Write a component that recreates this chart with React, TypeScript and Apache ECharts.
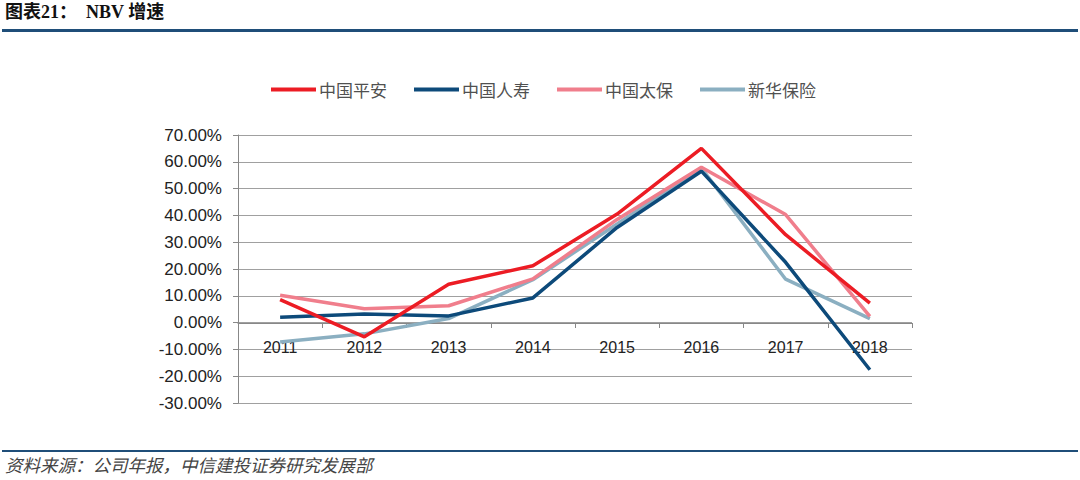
import React, { useEffect, useRef } from "react";
import * as echarts from "echarts";

const categories = ["2011", "2012", "2013", "2014", "2015", "2016", "2017", "2018"];
const seriesNames = ["中国平安", "中国人寿", "中国太保", "新华保险"];
const pingan = [8.6, -5.3, 14.3, 21.2, 40.5, 65.0, 32.8, 7.3];
const renshou = [2.0, 3.2, 2.5, 9.2, 35.5, 56.5, 22.5, -17.6];
const taibao = [10.2, 5.2, 6.3, 16.3, 38.5, 58.0, 40.3, 2.3];
const xinhua = [-7.2, -4.2, 1.5, 16.0, 36.8, 57.7, 16.2, 1.5];
const yTicks = { min: -30, max: 70, interval: 10 };
const colors = ["#EC1C24", "#0D4A7A", "#F07E8C", "#8BAFC1"];
const titleText = "图表21：  NBV 增速";
const sourceText = "资料来源：公司年报，中信建投证券研究发展部";

export default function App() {
  const ref = useRef<HTMLDivElement>(null);
  useEffect(() => {
    document.body.style.margin = "0";
    const chart = echarts.init(ref.current!, null, { renderer: "svg" });
    const data = [pingan, renshou, taibao, xinhua];
    chart.setOption({
      animation: false,
      backgroundColor: "#ffffff",
      graphic: [
        {
          type: "text",
          left: 5,
          top: 3,
          style: {
            text: titleText,
            fontSize: 18,
            fontWeight: "bold",
            fontFamily: "Liberation Serif, Noto Sans CJK SC",
            fill: "#111",
          },
        },
        {
          type: "rect",
          shape: { x: 2, y: 29, width: 1076, height: 3 },
          style: { fill: "#1F4E79" },
        },
        {
          type: "rect",
          shape: { x: 2, y: 450, width: 1076, height: 2 },
          style: { fill: "#1F4E79" },
        },
        {
          type: "text",
          left: 5,
          top: 456,
          style: {
            text: sourceText,
            fontSize: 17.5,
            fontStyle: "italic",
            fontFamily: "Noto Sans CJK SC",
            fill: "#444",
          },
        },
      ],
      legend: {
        left: 266,
        top: 76,
        icon: "rect",
        itemWidth: 45,
        itemHeight: 4,
        itemGap: 27,
        textStyle: {
          fontSize: 17,
          color: "#505050",
          fontFamily: "Noto Sans CJK SC",
          padding: [0, 0, 0, -2],
        },
        data: seriesNames,
      },
      grid: { left: 238, right: 168, top: 135, bottom: 77, containLabel: false },
      xAxis: {
        type: "category",
        data: categories,
        boundaryGap: true,
        offset: -80,
        axisLine: { onZero: false, lineStyle: { color: "#888", width: 1 } },
        axisTick: { show: true, length: 5, lineStyle: { color: "#888" } },
        axisLabel: {
          margin: 16,
          fontSize: 16,
          color: "#222",
          fontFamily: "Liberation Sans, Arial",
        },
      },
      yAxis: {
        type: "value",
        min: yTicks.min,
        max: yTicks.max,
        interval: yTicks.interval,
        axisLine: { show: true, lineStyle: { color: "#888", width: 1 } },
        axisTick: { show: true, length: 5, lineStyle: { color: "#888" } },
        splitLine: { show: true, lineStyle: { color: "#a0a0a0", width: 1 } },
        axisLabel: {
          margin: 16,
          fontSize: 17,
          color: "#222",
          fontFamily: "Liberation Sans, Arial",
          formatter: (v: number) => v.toFixed(2) + "%",
        },
      },
      series: seriesNames.map((name, i) => ({
        name,
        type: "line",
        data: data[i],
        symbol: "none",
        lineStyle: { width: 3.5, color: colors[i] },
        itemStyle: { color: colors[i] },
        z: 10 - i,
      })),
    });
    return () => chart.dispose();
  }, []);
  return <div ref={ref} style={{ width: 1080, height: 480 }} />;
}
